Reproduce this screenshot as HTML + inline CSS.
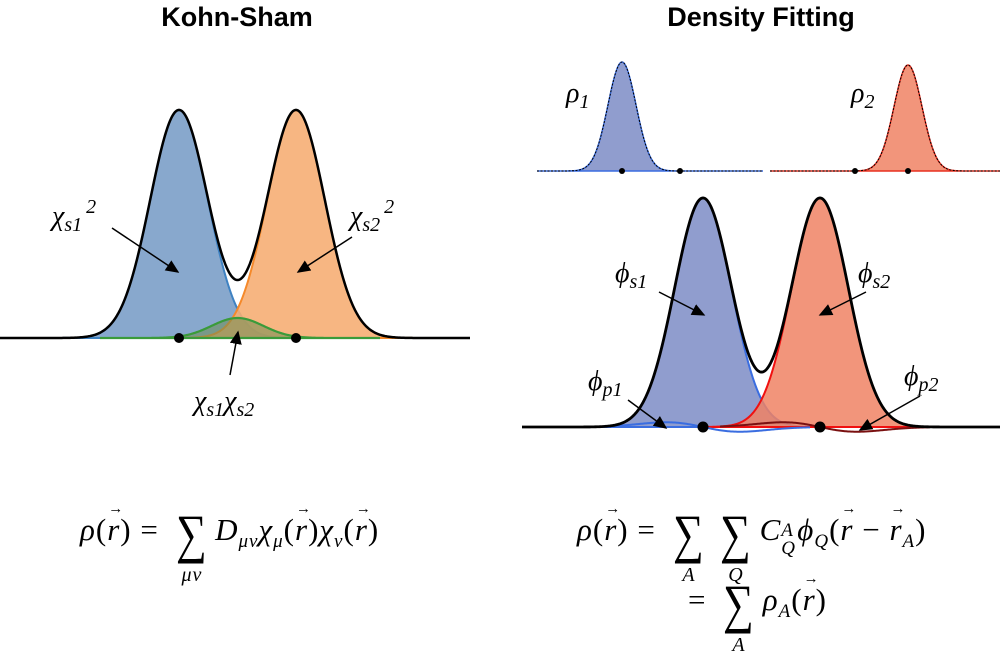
<!DOCTYPE html>
<html><head><meta charset="utf-8"><style>
body{margin:0;background:#fff;position:relative;width:1000px;height:650px;overflow:hidden}
svg{display:block;position:absolute;left:0;top:0}
.t{font-family:"Liberation Sans",sans-serif;font-weight:bold;font-size:27px}
.m{font-family:"Liberation Serif",serif;font-style:italic;font-size:28px}
.eq{position:absolute;font-family:"Liberation Serif",serif;font-style:italic;font-size:31px;white-space:nowrap;line-height:1;letter-spacing:1px}
.eq .u{font-style:normal}
.vec{position:relative;display:inline-block}
.vec::before{content:"→";position:absolute;left:1px;top:-12px;font-size:15px;font-style:normal}
.sum{position:relative;display:inline-block;font-style:normal;font-size:54px;vertical-align:-12px;margin:0 4px;transform:scaleX(0.8)}
.lim{position:absolute;left:50%;top:58px;font-size:20px;font-style:italic;transform:translateX(-50%) scaleX(1.25)}
sub,sup{font-size:19px;line-height:0}
.ss{display:inline-block;position:relative;width:16px}
.ss sub{position:absolute;left:0;top:9px}
.ss sup{position:absolute;left:0;top:-9px}
</style></head><body>
<svg id="c" width="1000" height="650" viewBox="0 0 1000 650">
<defs><marker id="ah" markerWidth="10" markerHeight="10" refX="8" refY="5" orient="auto"><path d="M0,1 L9,5 L0,9 Z" fill="#000"/></marker></defs>
<text class="t" x="237" y="26" text-anchor="middle">Kohn-Sham</text>
<text class="t" x="761" y="26" text-anchor="middle">Density Fitting</text>
<g id="plots"></g>
<g>
<text class="m" x="52" y="225">χ<tspan font-size="20" dy="6">s</tspan><tspan font-size="20">1</tspan><tspan font-size="20" dy="-18" dx="4">2</tspan></text>
<text class="m" x="350" y="225">χ<tspan font-size="20" dy="6">s</tspan><tspan font-size="20">2</tspan><tspan font-size="20" dy="-18" dx="4">2</tspan></text>
<text class="m" x="194" y="410">χ<tspan font-size="20" dy="6">s</tspan><tspan font-size="20">1</tspan><tspan dy="-6">χ</tspan><tspan font-size="20" dy="6">s</tspan><tspan font-size="20">2</tspan></text>
<line x1="112" y1="228" x2="178" y2="272" stroke="#000" stroke-width="1.5" marker-end="url(#ah)"/>
<line x1="352" y1="237" x2="298" y2="272" stroke="#000" stroke-width="1.5" marker-end="url(#ah)"/>
<line x1="230" y1="375" x2="238" y2="332" stroke="#000" stroke-width="1.5" marker-end="url(#ah)"/>
<text class="m" x="566" y="102">ρ<tspan font-size="20" dy="6">1</tspan></text>
<text class="m" x="851" y="102">ρ<tspan font-size="20" dy="6">2</tspan></text>
<text class="m" x="615" y="282">ϕ<tspan font-size="20" dy="6">s1</tspan></text>
<text class="m" x="858" y="282">ϕ<tspan font-size="20" dy="6">s2</tspan></text>
<text class="m" x="588" y="390">ϕ<tspan font-size="20" dy="6">p1</tspan></text>
<text class="m" x="904" y="385">ϕ<tspan font-size="20" dy="6">p2</tspan></text>
<line x1="659" y1="292" x2="704" y2="315" stroke="#000" stroke-width="1.5" marker-end="url(#ah)"/>
<line x1="866" y1="292" x2="820" y2="315" stroke="#000" stroke-width="1.5" marker-end="url(#ah)"/>
<line x1="628" y1="400" x2="666" y2="428" stroke="#000" stroke-width="1.5" marker-end="url(#ah)"/>
<line x1="920" y1="396" x2="860" y2="430" stroke="#000" stroke-width="1.5" marker-end="url(#ah)"/>
</g>
</svg>
<div class="eq" style="left:80px;top:507px">ρ<span class="u">(</span><span class="vec">r</span><span class="u">)</span> <span class="u">=</span> <span class="sum">∑<span class="lim">μν</span></span>D<sub>μν</sub>χ<sub>μ</sub><span class="u">(</span><span class="vec">r</span><span class="u">)</span>χ<sub>ν</sub><span class="u">(</span><span class="vec">r</span><span class="u">)</span></div>
<div class="eq" style="left:577px;top:507px">ρ<span class="u">(</span><span class="vec">r</span><span class="u">)</span> <span class="u">=</span> <span class="sum">∑<span class="lim">A</span></span><span class="sum">∑<span class="lim">Q</span></span>C<span class="ss"><sup>A</sup><sub>Q</sub></span>ϕ<sub>Q</sub><span class="u">(</span><span class="vec">r</span> <span class="u">−</span> <span class="vec">r</span><sub>A</sub><span class="u">)</span></div>
<div class="eq" style="left:688px;top:577px"><span class="u">=</span> <span class="sum">∑<span class="lim">A</span></span>ρ<sub>A</sub><span class="u">(</span><span class="vec">r</span><span class="u">)</span></div>
<script>
const ksCenters=[179,296];
const ksAmps=[228,228];
const dfCenters=[703,820];
const dfAmps=[229,229];
const rhoCenters=[622,908];
const rhoAmps=[109,106];
const NS='http://www.w3.org/2000/svg';
const g=document.getElementById('plots');
function gauss(x,c,a,s){return a*Math.exp(-(x-c)*(x-c)/(2*s*s));}
function path(x0,x1,base,f,close){let d='';for(let x=x0;x<=x1;x+=1){d+=(x===x0?'M':'L')+x+','+(base-f(x)).toFixed(2);}if(close)d+='L'+x1+','+base+'L'+x0+','+base+'Z';return d;}
function add(d,fill,stroke,sw,name,dash){const p=document.createElementNS(NS,'path');p.setAttribute('d',d);p.setAttribute('fill',fill);p.setAttribute('stroke',stroke);p.setAttribute('stroke-width',sw);if(dash)p.setAttribute('stroke-dasharray',dash);


g.appendChild(p);}
function dot(x,y,r,name){const c=document.createElementNS(NS,'circle');c.setAttribute('cx',x);c.setAttribute('cy',y);c.setAttribute('r',r);c.setAttribute('fill','#000');


g.appendChild(c);}
const s1=28.8,B1=338;
const f1=x=>gauss(x,ksCenters[0],ksAmps[0],s1),f2=x=>gauss(x,ksCenters[1],ksAmps[1],s1);
const fo=x=>gauss(x,(ksCenters[0]+ksCenters[1])/2,20,s1*0.9);
add(path(60,300,B1,f1,true),'#88a8cd','#3f82c2',2,'chi-s1-squared-area');
add(path(175,420,B1,f2,true),'rgba(246,174,116,0.9)','#f5892a',2,'chi-s2-squared-area');
add(path(100,380,B1,fo,true),'rgba(110,140,80,0.55)','#3a9b3a',2.2,'chi-overlap-area');
add(path(0,470,B1,x=>f1(x)+f2(x)),'none','#000',2.5,'kohn-sham-total-density');
ksCenters.forEach((c,i)=>dot(c,B1,5,'ks-nucleus-'+(i+1)));
const s2=28.4,B2=427;
const h1=x=>gauss(x,dfCenters[0],dfAmps[0],s2),h2=x=>gauss(x,dfCenters[1],dfAmps[1],s2);
const p1=x=>-(x-dfCenters[0])/s2*gauss(x,dfCenters[0],6,s2*1.3);
const p2=x=>-(x-dfCenters[1])/s2*gauss(x,dfCenters[1],6,s2*1.3);
add(path(600,820,B2,h1,true),'#909dce','#3a6de0',2,'phi-s1-area');
add(path(700,930,B2,h2,true),'rgba(240,130,100,0.85)','#f01010',2,'phi-s2-area');
add(path(600,810,B2,p1),'none','#3a6de0',2,'phi-p1-curve');
add(path(720,930,B2,p2),'none','#7a1010',2,'phi-p2-curve');
add(path(522,1000,B2,x=>h1(x)+h2(x)),'none','#000',2.8,'fitted-total-density');
dfCenters.forEach((c,i)=>dot(c,B2,5.5,'df-nucleus-'+(i+1)));
const s3=14,B3=171;
const r1=x=>gauss(x,rhoCenters[0],rhoAmps[0],s3),r2=x=>gauss(x,rhoCenters[1],rhoAmps[1],s3);
add(path(537,763,B3,r1,true),'#909dce','#3a6de0',1.5,'rho1-area');
add(path(537,763,B3,r1),'none','#000',1,'rho1-outline','2,1.5');
add(path(770,1000,B3,r2,true),'rgba(240,130,100,0.85)','#e83020',1.5,'rho2-area');
add(path(770,1000,B3,r2),'none','#000',1,'rho2-outline','2,1.5');
dot(rhoCenters[0],B3,3,'rho1-nucleus');dot(rhoCenters[0]+58,B3,3,'rho1-neighbor');
dot(rhoCenters[1],B3,3,'rho2-nucleus');dot(rhoCenters[1]-53,B3,3,'rho2-neighbor');
</script>
</body></html>
